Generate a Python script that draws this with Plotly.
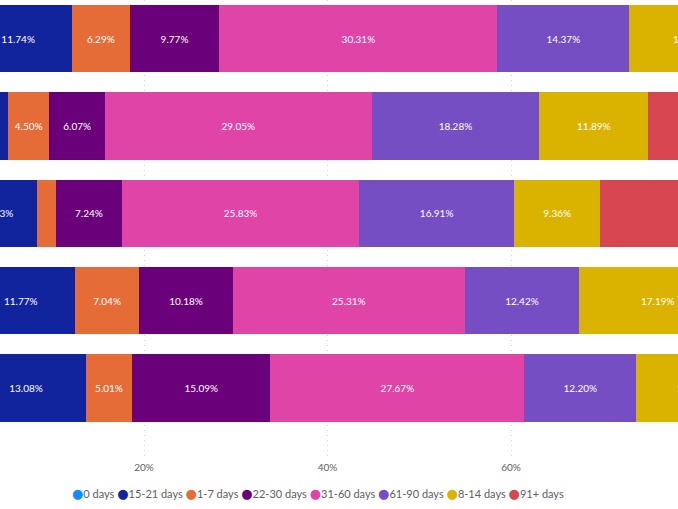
import plotly.graph_objects as go

categories = ["Group 1", "Group 2", "Group 3", "Group 4", "Group 5"]
series_names = ["0 days", "15-21 days", "1-7 days", "22-30 days", "31-60 days",
                "61-90 days", "8-14 days", "91+ days"]
colors = ["#118DFF", "#12239E", "#E66C37", "#6B007B", "#E044A7",
          "#744EC2", "#D9B300", "#D64550"]

d0_days = [0.41, 0.08, 0.17, 0.68, 0.60]
d15_21 = [11.74, 5.10, 8.13, 11.77, 13.08]
d1_7 = [6.29, 4.50, 2.07, 7.04, 5.01]
d22_30 = [9.77, 6.07, 7.24, 10.18, 15.09]
d31_60 = [30.31, 29.05, 25.83, 25.31, 27.67]
d61_90 = [14.37, 18.28, 16.91, 12.42, 12.20]
d8_14 = [13.20, 11.89, 9.36, 17.19, 12.50]
d91_plus = [13.91, 25.11, 30.29, 15.41, 13.85]

series_values = [d0_days, d15_21, d1_7, d22_30, d31_60, d61_90, d8_14, d91_plus]
x_ticks = [0, 20, 40, 60, 80, 100]

FONT = "Segoe UI, Lato, sans-serif"
W, H = 678, 509
PLOT_BOTTOM = 456

fig = go.Figure()
for name, color, vals in zip(series_names, colors, series_values):
    fig.add_trace(go.Bar(
        y=categories, x=vals, name=name, orientation="h",
        marker=dict(color=color, line=dict(width=0)),
        texttemplate="%{x:.2f}%", textposition="inside",
        insidetextanchor="middle", textangle=0,
        textfont=dict(color="white", size=10, family=FONT),
        showlegend=False,
    ))

legend_parts = []
for name, color in zip(series_names, colors):
    legend_parts.append(
        f'<span style="color:{color};font-size:13px;font-family:DejaVu Sans">●</span>{name}'
    )
legend_text = "\u00a0".join(legend_parts)

fig.add_annotation(
    xref="paper", yref="paper", x=70 / W, y=(PLOT_BOTTOM - 493) / PLOT_BOTTOM,
    xanchor="left", yanchor="middle", showarrow=False, text=legend_text,
    font=dict(family=FONT, size=11, color="#605E5C"),
)

fig.update_layout(
    width=W, height=H,
    margin=dict(l=0, r=0, t=0, b=H - PLOT_BOTTOM, pad=0),
    barmode="stack", bargap=0.227,
    plot_bgcolor="white", paper_bgcolor="white",
    uniformtext=dict(minsize=10, mode="hide"),
    xaxis=dict(
        range=[4.305, 78.20], tickvals=x_ticks,
        ticktext=[f"{v}%" for v in x_ticks],
        showgrid=True, gridcolor="#D6D6D6", griddash="1px,4px", gridwidth=1,
        zeroline=False, showline=False, ticks="", ticklabelstandoff=4,
        tickfont=dict(family=FONT, size=10, color="#605E5C"),
        fixedrange=True,
    ),
    yaxis=dict(
        range=[4.777, -0.4405], showticklabels=False, showgrid=False,
        zeroline=False, showline=False, ticks="", fixedrange=True,
    ),
    font=dict(family=FONT),
)

fig.write_html("out.html")
